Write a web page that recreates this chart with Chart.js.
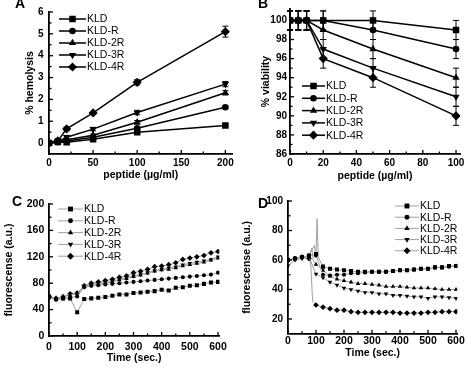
<!DOCTYPE html>
<html>
<head>
<meta charset="utf-8">
<script src="https://cdn.jsdelivr.net/npm/chart.js@4.4.0/dist/chart.umd.min.js"></script>
<style>
    html, body { margin: 0; padding: 0; background: #fff; }
    #wrap { position: relative; width: 474px; height: 375px; overflow: hidden; font-family: "Liberation Sans", Arial, sans-serif; }
    .panel { position: absolute; }
    .tag { position: absolute; font-weight: bold; font-size: 14px; line-height: 14px; color: #000; }
</style>
</head>
<body>
<div id="wrap">
    <div class="panel" style="left:0;top:0"><canvas id="chartA" width="237" height="185"></canvas></div>
    <div class="panel" style="left:237px;top:0"><canvas id="chartB" width="237" height="185"></canvas></div>
    <div class="panel" style="left:0;top:185px"><canvas id="chartC" width="237" height="190"></canvas></div>
    <div class="panel" style="left:237px;top:185px"><canvas id="chartD" width="237" height="190"></canvas></div>
    <div class="tag" style="left:15px;top:-4px">A</div>
    <div class="tag" style="left:258px;top:-4px">B</div>
    <div class="tag" style="left:12px;top:194px">C</div>
    <div class="tag" style="left:258px;top:196px">D</div>
</div>
<script>
// ---- data ----
const seriesNames = ['KLD', 'KLD-R', 'KLD-2R', 'KLD-3R', 'KLD-4R'];

// A: hemolysis
const doseA = [0, 10, 20, 50, 100, 200];
const hemoKLD = [0, 0.05, 0.04, 0.18, 0.5, 0.8];
const hemoR   = [0, 0.05, 0.1, 0.27, 0.68, 1.64];
const hemo2R  = [0, 0.06, 0.15, 0.36, 0.95, 2.3];
const hemo3R  = [0, 0.08, 0.27, 0.64, 1.4, 2.7];
const hemo4R  = [0, 0.1, 0.65, 1.38, 2.78, 5.1];
const hemoErrKLD = [0, 0.03, 0.03, 0.04, 0.05, 0.05];
const hemoErrR   = [0, 0.04, 0.04, 0.05, 0.05, 0.06];
const hemoErr2R  = [0, 0.05, 0.05, 0.05, 0.08, 0.1];
const hemoErr3R  = [0, 0.05, 0.08, 0.08, 0.1, 0.12];
const hemoErr4R  = [0, 0.1, 0.08, 0.06, 0.12, 0.25];
const ticksAx = [0, 50, 100, 150, 200];
const ticksAy = [0, 1, 2, 3, 4, 5, 6];

// B: viability
const doseB = [0, 5, 10, 20, 50, 100];
const viaKLD = [100, 100, 100, 100, 100, 99];
const viaR   = [100, 100, 100, 100, 99, 97];
const via2R  = [100, 100, 100, 99, 97, 94];
const via3R  = [100, 100, 100, 97, 95, 92];
const via4R  = [100, 100, 100, 96, 94, 90];
const viaErrKLD = [1, 1, 1, 1, 1, 1];
const viaErrR   = [1, 1, 1, 1, 1, 1];
const viaErr2R  = [1, 1, 1, 1, 1, 1];
const viaErr3R  = [1, 1, 1, 1, 1, 1];
const viaErr4R  = [1, 1, 1, 1, 1, 1];
const ticksBx = [0, 20, 40, 60, 80, 100];
const ticksBy = [86, 88, 90, 92, 94, 96, 98, 100];

// C: fluorescence (time in s)
const timeC = [0, 25, 50, 75, 100, 125, 150, 175, 200, 225, 250, 275, 300, 325, 350, 375, 400, 425, 450, 475, 500, 525, 550, 575, 600];
const fluoCKLD = [60, 56, 57, 57, 36, 56, 57, 58, 59, 61, 63, 63, 65, 66, 67, 68, 70, 69, 73, 74, 76, 77, 79, 81, 82];
const fluoCR   = [58, 55, 57, 58, 60, 74, 76, 77, 78, 79, 80, 81, 82, 83, 84, 85, 86, 87, 88, 89, 90, 91, 92, 93, 96];
const fluoC2R  = [60, 57, 60, 62, 65, 75, 78, 79, 80, 82, 85, 87, 90, 92, 95, 98, 100, 101, 103, 106, 108, 110, 112, 115, 118];
const fluoC3R  = [60, 57, 59, 63, 63, 76, 78, 80, 81, 83, 86, 88, 91, 93, 96, 99, 101, 103, 105, 108, 110, 112, 114, 116, 120];
const fluoC4R  = [60, 57, 59, 64, 65, 76, 80, 82, 84, 86, 89, 91, 96, 98, 101, 105, 106, 108, 111, 116, 118, 120, 122, 126, 128];
const ticksCx = [0, 100, 200, 300, 400, 500, 600];
const ticksCy = [0, 40, 80, 120, 160, 200];

// D: fluorescence (time in s)
const timeD = [0, 25, 50, 75, 100, 125, 150, 175, 200, 225, 250, 275, 300, 325, 350, 375, 400, 425, 450, 475, 500, 525, 550, 575, 600];
const fluoDKLD = [60, 61, 62, 63, 64, 55.5, 54, 53.5, 53, 52.5, 52, 52, 52, 52, 52, 52.5, 53, 53, 53.5, 54, 54, 55, 55, 56, 56];
const fluoDR   = [60, 61, 62, 63, 63, 50, 49.5, 50, 50, 51, 51, 51.5, 52, 52, 52, 52.5, 53, 53, 53.5, 54, 54, 55, 55, 55.5, 56];
const fluoD2R  = [60, 61, 62, 62, 57, 53, 49, 47, 46, 45, 44, 44, 43.5, 43, 42, 42, 42, 41.5, 41, 41, 41, 40.5, 40, 40, 40];
const fluoD3R  = [56, 60, 61, 62, 50.5, 48, 45, 43, 41, 40, 39, 38, 38, 37, 37, 36, 36, 35.5, 35, 35, 34, 35, 35, 34.5, 34];
const fluoD4R  = [60, 61, 62, 61, 29.5, 28, 27, 26, 26, 25, 24.5, 24.5, 24.5, 24.5, 24.5, 24.5, 24, 24, 24, 24, 24.5, 24.5, 25, 25, 25];
// unmarked trace readings between markers (time, value)
const traceDKLD = [[104, 88], [108, 62]];
const traceDR   = [[95, 70], [98, 62]];
const traceD2R  = [[85, 68], [90, 60]];
const traceD4R  = [[80, 62], [88, 32]];
const ticksDx = [0, 100, 200, 300, 400, 500, 600];
const ticksDy = [20, 40, 60, 80, 100];

// ---- styles ----
const markers = [
    { style: 'rect', rot: 0, r: 4.6 },
    { style: 'circle', rot: 0, r: 3.3 },
    { style: 'triangle', rot: 0, r: 4.2 },
    { style: 'triangle', rot: 180, r: 4.2 },
    { style: 'rectRot', rot: 0, r: 4.6 }
];
const FONT = '"Liberation Sans", Arial, sans-serif';

function drawMarker(ctx, m, scale, x, y) {
    Chart.helpers.drawPoint(ctx, { pointStyle: m.style, rotation: m.rot, radius: m.r * scale, borderWidth: 0 }, x, y);
}

// legend drawn inside the plot
const insideLegend = {
    id: 'insideLegend',
    afterDatasetsDraw(chart, args, o) {
        if (!o || o.x === undefined) return;
        const ctx = chart.ctx;
        ctx.save();
        ctx.font = '10.5px ' + FONT;
        ctx.textBaseline = 'middle';
        chart.data.datasets.forEach((ds, i) => {
            const y = o.y + i * o.dy;
            ctx.strokeStyle = ds.borderColor;
            ctx.lineWidth = ds.borderWidth;
            ctx.beginPath();
            ctx.moveTo(o.x, y);
            ctx.lineTo(o.x + o.len, y);
            ctx.stroke();
            ctx.fillStyle = '#000';
            drawMarker(ctx, markers[i], o.scale, o.x + o.len / 2, y);
            ctx.fillText(ds.label, o.x + o.len + 1, y + 0.5);
        });
        ctx.restore();
    }
};

// vertical error bars from dataset.errors
const errorBars = {
    id: 'errorBars',
    afterDatasetsDraw(chart) {
        const ctx = chart.ctx;
        const yScale = chart.scales.y;
        ctx.save();
        ctx.strokeStyle = '#000';
        ctx.lineWidth = 1;
        chart.data.datasets.forEach((ds, i) => {
            if (!ds.errors) return;
            const meta = chart.getDatasetMeta(i);
            ds.data.forEach((pt, j) => {
                const e = ds.errors[j];
                if (!e) return;
                const x = meta.data[j].x;
                const yTop = yScale.getPixelForValue(pt.y + e);
                const yBot = yScale.getPixelForValue(pt.y - e);
                ctx.beginPath();
                ctx.moveTo(x, yTop); ctx.lineTo(x, yBot);
                ctx.moveTo(x - 3, yTop); ctx.lineTo(x + 3, yTop);
                ctx.moveTo(x - 3, yBot); ctx.lineTo(x + 3, yBot);
                ctx.stroke();
            });
        });
        ctx.restore();
    }
};

// inward major + minor tick marks
const innerTicks = {
    id: 'innerTicks',
    afterDraw(chart) {
        const { ctx, chartArea: a, scales } = chart;
        ctx.save();
        ctx.strokeStyle = '#000';
        ctx.lineWidth = 1.3;
        const marks = (scale, horiz) => {
            const vals = scale.ticks.map(t => t.value);
            vals.forEach((v, k) => {
                const list = [[v, 4]];
                if (k < vals.length - 1) list.push([(v + vals[k + 1]) / 2, 2.5]);
                list.forEach(([val, len]) => {
                    const p = scale.getPixelForValue(val);
                    ctx.beginPath();
                    if (horiz) { ctx.moveTo(p, a.bottom); ctx.lineTo(p, a.bottom - len); }
                    else { ctx.moveTo(a.left, p); ctx.lineTo(a.left + len, p); }
                    ctx.stroke();
                });
            });
        };
        marks(scales.x, true);
        marks(scales.y, false);
        ctx.restore();
    }
};

function points(xs, ys) {
    return xs.map((x, i) => ({ x, y: ys[i], m: 1 }));
}

function withTrace(xs, ys, extra) {
    const pts = points(xs, ys).concat(extra.map(([x, y]) => ({ x, y, m: 0 })));
    return pts.sort((p, q) => p.x - q.x);
}

function buildDatasets(seriesList, errList, lineColor, lineWidth, mScale) {
    return seriesList.map((data, i) => ({
        label: seriesNames[i],
        data,
        errors: errList ? errList[i] : null,
        borderColor: lineColor,
        borderWidth: lineWidth,
        pointStyle: markers[i].style,
        pointRotation: markers[i].rot,
        pointRadius: ctx => (ctx.raw && ctx.raw.m ? markers[i].r * mScale : 0),
        pointBackgroundColor: '#000',
        pointBorderColor: '#000',
        pointBorderWidth: 0,
        tension: 0,
        fill: false
    }));
}

function axis(c) {
    return {
        type: 'linear',
        min: c.min,
        max: c.max,
        afterBuildTicks: s => { s.ticks = c.ticks.map(v => ({ value: v })); },
        afterFit: s => { if (c.size !== undefined) { if (c.horiz) s.height = c.size; else s.width = c.size; } },
        grid: { display: false, drawTicks: false },
        border: { display: true, color: '#000', width: 1.8 },
        ticks: { color: '#000', font: { family: FONT, size: c.fs || 10, weight: 'bold' }, padding: c.tp, maxRotation: 0, autoSkip: false },
        title: { display: true, text: c.title, color: '#000', font: { family: FONT, size: 10.5, weight: 'bold' }, padding: c.titlePad }
    };
}

function makeChart(id, datasets, cfg, usePlugins) {
    return new Chart(document.getElementById(id), {
        type: 'line',
        data: { datasets },
        options: {
            responsive: false,
            animation: false,
            layout: { padding: cfg.pad },
            plugins: { legend: { display: false }, tooltip: { enabled: false }, insideLegend: cfg.legend },
            scales: { x: axis(cfg.x), y: axis(cfg.y) }
        },
        plugins: usePlugins
    });
}

// ---- panels ----
makeChart('chartA',
    buildDatasets(
        [points(doseA, hemoKLD), points(doseA, hemoR), points(doseA, hemo2R), points(doseA, hemo3R), points(doseA, hemo4R)],
        [hemoErrKLD, hemoErrR, hemoErr2R, hemoErr3R, hemoErr4R], '#000', 1.5, 1),
    {
        pad: { left: 0, top: 12, right: 4, bottom: 0 },
        x: { horiz: true, min: 0, max: 208, ticks: ticksAx, size: 31, tp: 3, title: 'peptide (\u00b5g/ml)', titlePad: { top: 0, bottom: 3.7 } },
        y: { min: -0.5, max: 6, ticks: ticksAy, size: 49, tp: 5.5, title: '% hemolysis', titlePad: { top: 23.7, bottom: 0 } },
        legend: { x: 59, y: 19, dy: 12, len: 27, scale: 1 }
    }, [errorBars, innerTicks, insideLegend]);

makeChart('chartB',
    buildDatasets(
        [points(doseB, viaKLD), points(doseB, viaR), points(doseB, via2R), points(doseB, via3R), points(doseB, via4R)],
        [viaErrKLD, viaErrR, viaErr2R, viaErr3R, viaErr4R], '#000', 1.5, 1),
    {
        pad: { left: 0, top: 5.25, right: 14, bottom: 0 },
        x: { horiz: true, min: 0, max: 102.4, ticks: ticksBx, size: 31, tp: 3, title: 'peptide (\u00b5g/ml)', titlePad: { top: 0, bottom: 3 } },
        y: { min: 86, max: 101.2, ticks: ticksBy, size: 53, tp: 3, title: '% viability', titlePad: { top: 23, bottom: 0 } },
        legend: { x: 65, y: 86, dy: 12.3, len: 23, scale: 1 }
    }, [errorBars, innerTicks, insideLegend]);

makeChart('chartC',
    buildDatasets(
        [points(timeC, fluoCKLD), points(timeC, fluoCR), points(timeC, fluoC2R), points(timeC, fluoC3R), points(timeC, fluoC4R)],
        null, '#a0a0a0', 1, 0.62),
    {
        pad: { left: 0, top: 19, right: 17.6, bottom: 0 },
        x: { horiz: true, min: 0, max: 605, ticks: ticksCx, size: 39, fs: 10.5, tp: 4.4, title: 'Time (sec.)', titlePad: { top: 0, bottom: 10.4 } },
        y: { min: 0, max: 200, ticks: ticksCy, size: 49, fs: 10.5, tp: 4.7, title: 'fluorescense (a.u.)', titlePad: { top: 2.7, bottom: 0 } },
        legend: { x: 58, y: 24, dy: 11.8, len: 25, scale: 0.75 }
    }, [innerTicks, insideLegend]);

makeChart('chartD',
    buildDatasets(
        [withTrace(timeD, fluoDKLD, traceDKLD), withTrace(timeD, fluoDR, traceDR), withTrace(timeD, fluoD2R, traceD2R),
         points(timeD, fluoD3R), withTrace(timeD, fluoD4R, traceD4R)],
        null, '#a0a0a0', 1, 0.62),
    {
        pad: { left: 0, top: 16, right: 16.6, bottom: 0 },
        x: { horiz: true, min: 0, max: 605, ticks: ticksDx, size: 41.25, fs: 10.5, tp: 1, title: 'Time (sec.)', titlePad: { top: 0, bottom: 15.4 } },
        y: { min: 10, max: 100, ticks: ticksDy, size: 51, fs: 10, tp: 5, title: 'fluorescense (a.u.)', titlePad: { top: 3.7, bottom: 0 } },
        legend: { x: 158, y: 21, dy: 11.2, len: 24, scale: 0.75 }
    }, [innerTicks, insideLegend]);
</script>
</body>
</html>
